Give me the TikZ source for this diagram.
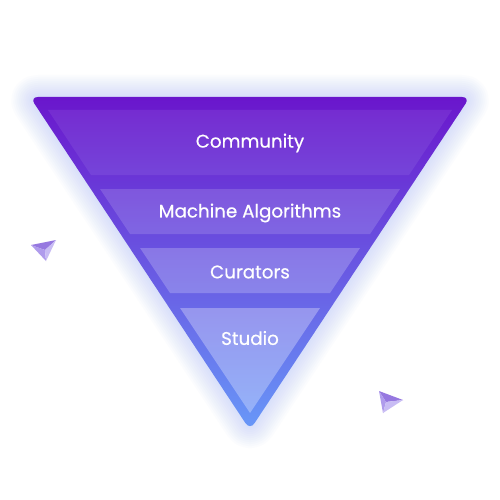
\documentclass[tikz,border=0pt]{standalone}
\usepackage{fontspec}
\setmainfont{Poppins}[FakeBold=0.4]
\definecolor{topc}{RGB}{106,22,204}
\definecolor{midc}{RGB}{102,80,226}
\definecolor{botc}{RGB}{104,152,248}
\definecolor{glowc}{RGB}{130,160,250}
\definecolor{facetdark}{RGB}{150,120,224}
\definecolor{facetmid}{RGB}{175,155,236}
\definecolor{facetlight}{RGB}{200,188,244}
\tikzset{
  lbl/.style={text=white, font=\fontsize{18.3}{21}\selectfont},
  glow/.style={draw=glowc, line join=round, opacity=0.028}
}
\begin{document}
\begin{tikzpicture}[x=1pt,y=-1pt]
\useasboundingbox (0,0) rectangle (500,500);
\fill[white] (0,0) rectangle (500,500);
% glow
\foreach \w in {4,8,...,44}{
  \draw[glow, line width=\w pt, rounded corners=8pt] (30,97) -- (470,97) -- (250,430) -- cycle;
}
% outer triangle
\shade[top color=topc, middle color=midc, bottom color=botc, rounded corners=8pt]
  (30,97) -- (470,97) -- (250,430) -- cycle;
% bands
\fill[white, opacity=0.08] (48,110) -- (452,110) -- (409,175) -- (91,175) -- cycle;
\fill[white, opacity=0.15] (100,189) -- (400,189) -- (370,234) -- (130,234) -- cycle;
\fill[white, opacity=0.22] (140,248) -- (360,248) -- (330,293) -- (170,293) -- cycle;
\fill[white, opacity=0.30] (180,308) -- (320,308) -- (250,413) -- cycle;
% labels
\node[lbl] (community) at (250,143) {Community};
\node[lbl] (machine) at (250,213) {Machine Algorithms};
\node[lbl] (curators) at (250,272) {Curators};
\node[lbl] (studio) at (250,338) {Studio};
% small pyramids
\fill[facetdark] (31,245) -- (56,240) -- (45,250) -- cycle;
\fill[facetmid] (31,245) -- (45,250) -- (46,261) -- cycle;
\fill[facetlight] (45,250) -- (56,240) -- (46,261) -- cycle;
\fill[facetdark] (379,391) -- (403,400) -- (386,402) -- cycle;
\fill[facetmid] (379,391) -- (386,402) -- (383,413) -- cycle;
\fill[facetlight] (386,402) -- (403,400) -- (383,413) -- cycle;
\end{tikzpicture}
\end{document}
